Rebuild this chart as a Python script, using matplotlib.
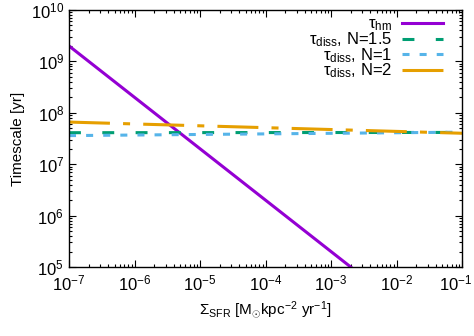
import matplotlib.pyplot as plt
import matplotlib.transforms as mtransforms

plt.rcParams["font.family"] = ["Liberation Sans", "DejaVu Sans"]
plt.rcParams["mathtext.fontset"] = "custom"
plt.rcParams["mathtext.rm"] = "Liberation Sans"
plt.rcParams["mathtext.it"] = "Liberation Sans:italic"

# data
sfr_hm = [1e-7, 2e-3]
tau_hm = [2e9, 1e5]
sfr_diss = [1e-7, 1e-1]
tau_n15 = [4.1e7, 4.15e7]
tau_n1 = [3.6e7, 4.2e7]
tau_n2 = [6.6e7, 4.0e7]

LW = 2.2

fig = plt.figure(figsize=(4.74, 3.36), dpi=100)
ax = fig.add_axes([69 / 474, 1 - 267 / 336, (462 - 69) / 474, (267 - 10) / 336])

# dash lengths are in units of line width (lines.scale_dashes)
ax.plot(sfr_hm, tau_hm, color="#9400d3", lw=LW, label="τ$_{\\rm hm}$")
ax.plot(sfr_diss, tau_n15, color="#009e73", lw=LW, dashes=(3.9, 7.0), label="τ$_{\\rm diss}$, N=1.5")
ax.plot(sfr_diss, tau_n1, color="#56b4e9", lw=LW, dashes=(2.3, 3.3), label="τ$_{\\rm diss}$, N=1")
ax.plot(sfr_diss, tau_n2, color="#e69f00", lw=LW, dashes=(13.4, 4.3, 2.3, 4.3), label="τ$_{\\rm diss}$, N=2")

ax.set_xscale("log")
ax.set_yscale("log")
ax.set_xlim(1e-7, 1e-1)
ax.set_ylim(1e5, 1e10)
ax.tick_params(which="both", direction="in", top=True, right=True, labelsize=12, width=0.8)
ax.tick_params(which="major", length=5)
ax.tick_params(which="minor", length=2.5)
ax.tick_params(axis="x", pad=5)
for s in ax.spines.values():
    s.set_linewidth(1.0)
ax.set_xlabel(r"$\Sigma_{\rm SFR}$ [M$_{\odot}$kpc$^{-2}$ yr$^{-1}$]", fontsize=11)
ax.set_ylabel("Timescale [yr]", fontsize=11)

# last x tick label pulled in so it fits, as in the reference
fig.canvas.draw()
last = [t for t in ax.get_xticklabels() if t.get_position()[0] >= 0.099][0]
last.set_transform(last.get_transform() + mtransforms.ScaledTranslation(-6 / 100, 0, fig.dpi_scale_trans))

leg = ax.legend(loc="upper right", bbox_to_anchor=(0.969, 1.0), borderaxespad=0,
                frameon=False, markerfirst=False, fontsize=12, handlelength=2.46,
                labelspacing=-0.18, handletextpad=0.6)
for t in leg.get_texts():
    t.set_ha("right")

fig.savefig("out.png", dpi=100)
